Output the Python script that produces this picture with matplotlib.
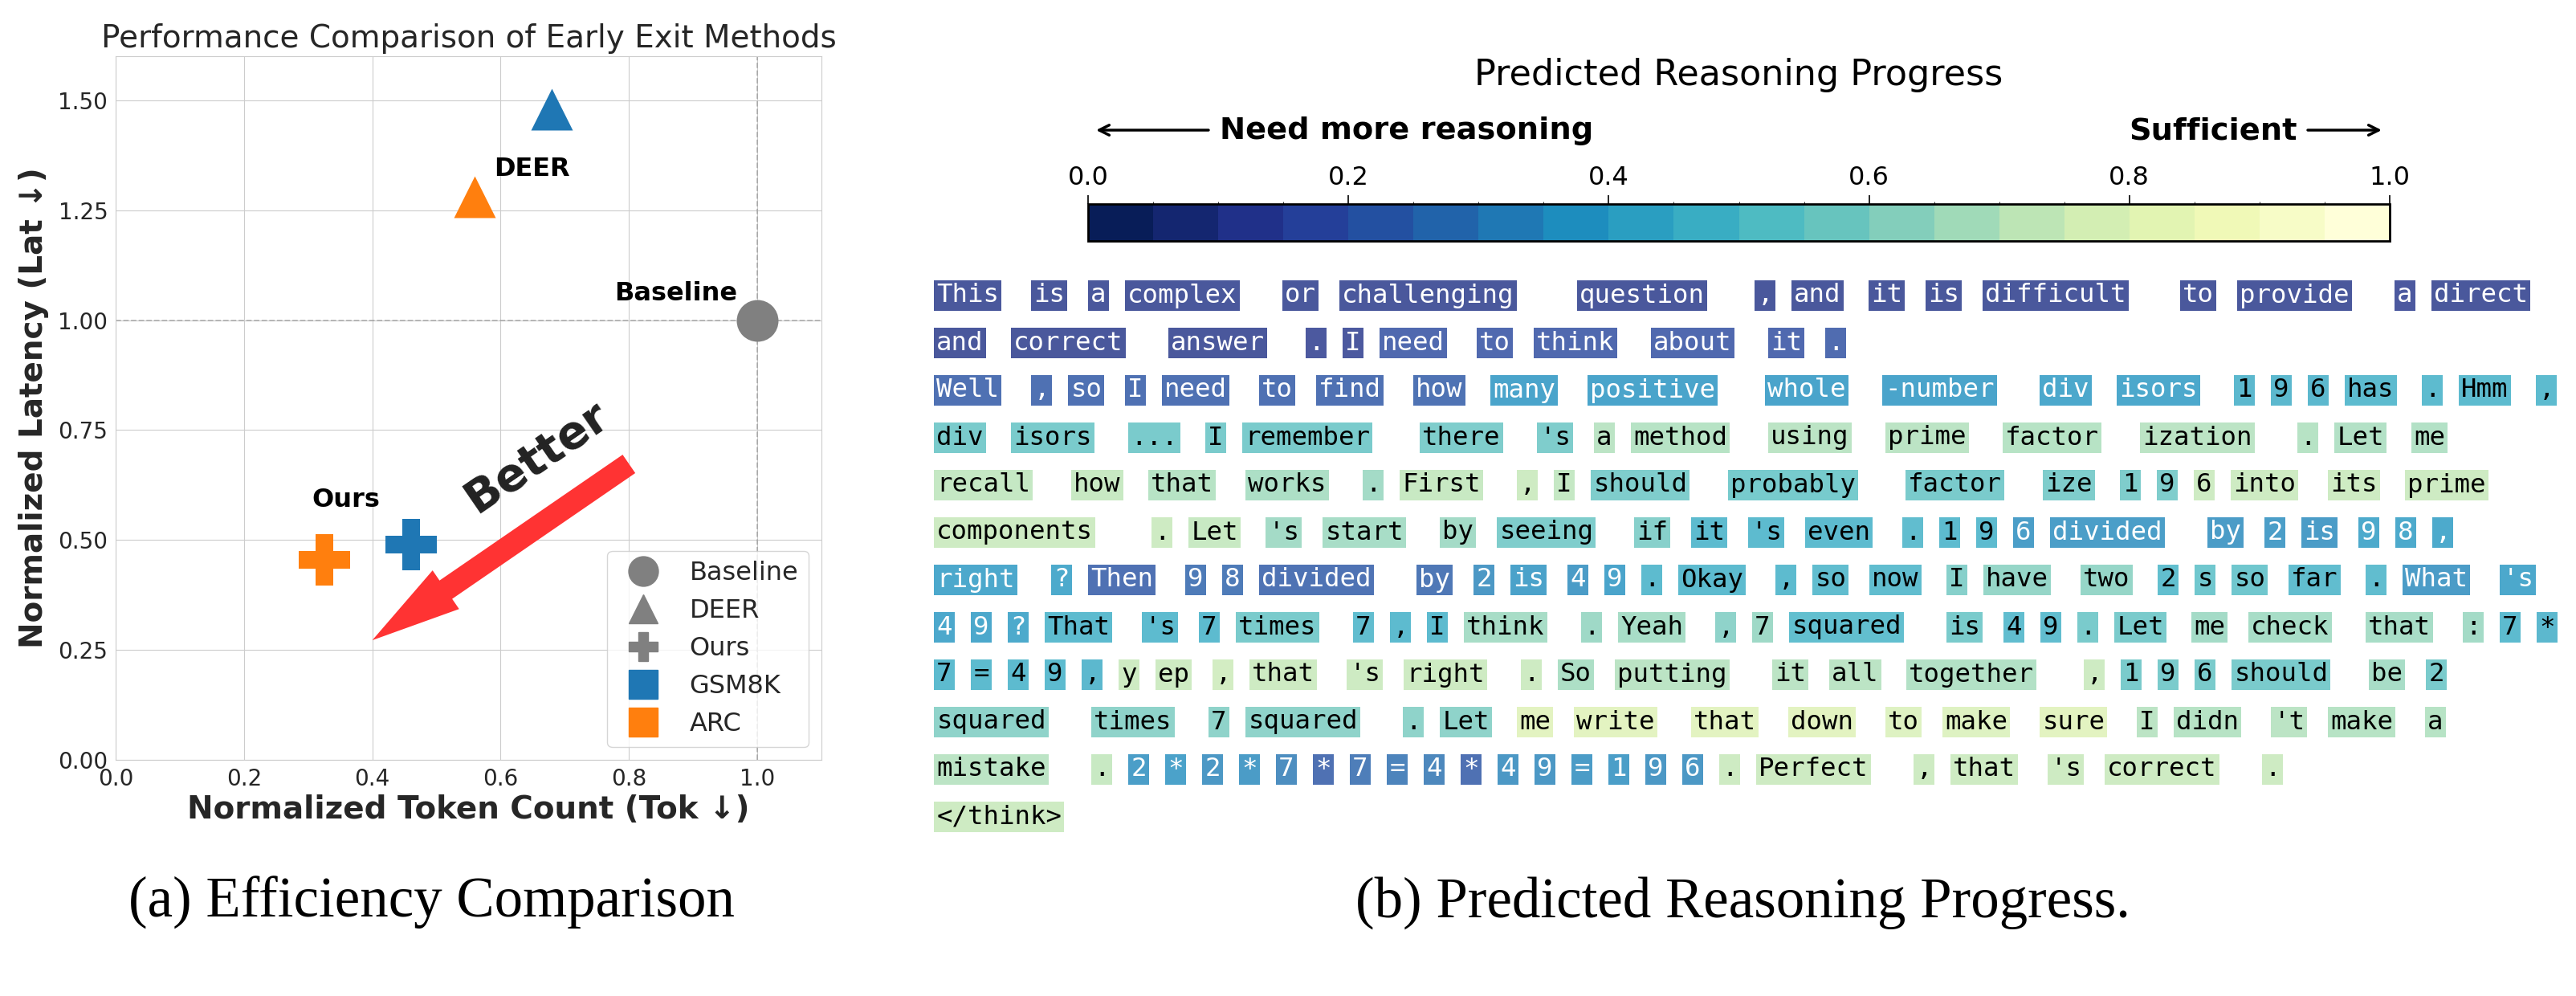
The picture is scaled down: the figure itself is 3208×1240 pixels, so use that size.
import numpy as np
import matplotlib
matplotlib.use("Agg")
import matplotlib.pyplot as plt
import seaborn as sns
from matplotlib import colors as mcolors
from matplotlib.colorbar import ColorbarBase
from matplotlib.lines import Line2D

plt.rcParams['font.family'] = ['DejaVu Sans']

# ---------------- (a) efficiency comparison data
datasets = ['GSM8K', 'ARC']
ds_colors = ['#1f77b4', '#ff7f0e']
baseline_tok = [1.0]
baseline_lat = [1.0]
deer_tok = [0.68, 0.56]      # GSM8K, ARC
deer_lat = [1.48, 1.28]
ours_tok = [0.46, 0.325]
ours_lat = [0.49, 0.455]
xticks = [0.0, 0.2, 0.4, 0.6, 0.8, 1.0]
yticks = [0.00, 0.25, 0.50, 0.75, 1.00, 1.25, 1.50]

# ---------------- (b) predicted reasoning progress per token
L1 = ['This', 'is', 'a', 'complex', 'or', 'challenging', 'question', ',', 'and', 'it', 'is', 'difficult', 'to', 'provide', 'a', 'direct']
P1 = [0.09, 0.09, 0.09, 0.09, 0.09, 0.09, 0.09, 0.09, 0.09, 0.09, 0.09, 0.09, 0.09, 0.09, 0.1, 0.09]
L2 = ['and', 'correct', 'answer', '.', 'I', 'need', 'to', 'think', 'about', 'it', '.']
P2 = [0.09, 0.09, 0.09, 0.1, 0.1, 0.17, 0.17, 0.17, 0.17, 0.17, 0.18]
L3 = ['Well', ',', 'so', 'I', 'need', 'to', 'find', 'how', 'many', 'positive', 'whole', '-number', 'div', 'isors', '1', '9', '6', 'has', '.', 'Hmm', ',']
P3 = [0.2, 0.2, 0.2, 0.2, 0.2, 0.2, 0.2, 0.21, 0.37, 0.37, 0.37, 0.37, 0.38, 0.38, 0.45, 0.45, 0.45, 0.46, 0.46, 0.46, 0.46]
L4 = ['div', 'isors', '...', 'I', 'remember', 'there', "'s", 'a', 'method', 'using', 'prime', 'factor', 'ization', '.', 'Let', 'me']
P4 = [0.55, 0.55, 0.55, 0.55, 0.55, 0.56, 0.56, 0.7, 0.69, 0.7, 0.7, 0.69, 0.7, 0.69, 0.68, 0.68]
L5 = ['recall', 'how', 'that', 'works', '.', 'First', ',', 'I', 'should', 'probably', 'factor', 'ize', '1', '9', '6', 'into', 'its', 'prime']
P5 = [0.72, 0.73, 0.69, 0.67, 0.65, 0.73, 0.74, 0.72, 0.56, 0.54, 0.55, 0.56, 0.56, 0.56, 0.74, 0.74, 0.74, 0.74]
L6 = ['components', '.', 'Let', "'s", 'start', 'by', 'seeing', 'if', 'it', "'s", 'even', '.', '1', '9', '6', 'divided', 'by', '2', 'is', '9', '8', ',']
P6 = [0.74, 0.74, 0.73, 0.65, 0.66, 0.65, 0.56, 0.58, 0.46, 0.46, 0.46, 0.47, 0.46, 0.46, 0.35, 0.35, 0.34, 0.35, 0.34, 0.39, 0.39, 0.39]
L7 = ['right', '?', 'Then', '9', '8', 'divided', 'by', '2', 'is', '4', '9', '.', 'Okay', ',', 'so', 'now', 'I', 'have', 'two', '2', 's', 'so', 'far', '.', 'What', "'s"]
P7 = [0.38, 0.39, 0.2, 0.24, 0.24, 0.21, 0.23, 0.33, 0.36, 0.34, 0.37, 0.46, 0.46, 0.46, 0.47, 0.47, 0.58, 0.62, 0.62, 0.48, 0.52, 0.52, 0.47, 0.47, 0.34, 0.38]
L8 = ['4', '9', '?', 'That', "'s", '7', 'times', '7', ',', 'I', 'think', '.', 'Yeah', ',', '7', 'squared', 'is', '4', '9', '.', 'Let', 'me', 'check', 'that', ':', '7', '*']
P8 = [0.38, 0.38, 0.39, 0.46, 0.46, 0.46, 0.55, 0.47, 0.46, 0.46, 0.66, 0.64, 0.66, 0.6, 0.64, 0.48, 0.55, 0.47, 0.47, 0.55, 0.55, 0.65, 0.66, 0.66, 0.65, 0.46, 0.45]
L9 = ['7', '=', '4', '9', ',', 'y', 'ep', ',', 'that', "'s", 'right', '.', 'So', 'putting', 'it', 'all', 'together', ',', '1', '9', '6', 'should', 'be', '2']
P9 = [0.46, 0.46, 0.46, 0.46, 0.45, 0.74, 0.74, 0.75, 0.74, 0.74, 0.74, 0.74, 0.67, 0.7, 0.7, 0.7, 0.68, 0.74, 0.55, 0.55, 0.55, 0.55, 0.66, 0.55]
L10 = ['squared', 'times', '7', 'squared', '.', 'Let', 'me', 'write', 'that', 'down', 'to', 'make', 'sure', 'I', 'didn', "'t", 'make', 'a']
P10 = [0.6, 0.6, 0.6, 0.6, 0.6, 0.6, 0.82, 0.82, 0.82, 0.82, 0.8, 0.8, 0.82, 0.7, 0.69, 0.7, 0.69, 0.69]
L11 = ['mistake', '.', '2', '*', '2', '*', '7', '*', '7', '=', '4', '*', '4', '9', '=', '1', '9', '6', '.', 'Perfect', ',', 'that', "'s", 'correct', '.']
P11 = [0.7, 0.73, 0.35, 0.36, 0.33, 0.34, 0.3, 0.2, 0.25, 0.27, 0.28, 0.2, 0.33, 0.33, 0.34, 0.35, 0.33, 0.33, 0.74, 0.74, 0.74, 0.74, 0.74, 0.74, 0.74]
L12 = ['</think>']
P12 = [0.74]
token_lines = [L1, L2, L3, L4, L5, L6, L7, L8, L9, L10, L11, L12]
progress_lines = [P1, P2, P3, P4, P5, P6, P7, P8, P9, P10, P11, P12]
cbar_ticks = [0.0, 0.2, 0.4, 0.6, 0.8, 1.0]

W, H, DPI = 3208, 1240, 100

fig = plt.figure(figsize=(W / DPI, H / DPI), dpi=DPI)

# overlay axes in pixel coordinates for panel (b) and captions
ov = fig.add_axes([0, 0, 1, 1])
ov.set_xlim(0, W)
ov.set_ylim(H, 0)
ov.axis('off')

# ---------------- panel (a)
with sns.axes_style('whitegrid'):
    ax = fig.add_axes([144 / W, 1 - 946 / H, 879 / W, 876 / H])
dark = '#262626'
ax.scatter(baseline_tok, baseline_lat, s=1400, marker='o', color='gray', zorder=3, linewidths=0)
for i in range(len(datasets)):
    ax.scatter(deer_tok[i], deer_lat[i], s=1400, marker='^', color=ds_colors[i], zorder=3, linewidths=0)
    ax.scatter(ours_tok[i], ours_lat[i], s=2100, marker='P', color=ds_colors[i], zorder=3, linewidths=0)
ax.axhline(1.0, color='gray', ls='--', lw=1.3, alpha=0.5, zorder=1)
ax.axvline(1.0, color='gray', ls='--', lw=1.3, alpha=0.5, zorder=1)
ax.set_xlim(0, 1.1)
ax.set_ylim(0, 1.6)
ax.set_xticks(xticks)
ax.set_xticklabels(['%.1f' % t for t in xticks])
ax.set_yticks(yticks)
ax.set_yticklabels(['%.2f' % t for t in yticks])
ax.tick_params(labelsize=20, colors=dark)
ax.set_xlabel('Normalized Token Count (Tok ↓)', fontsize=28, fontweight='bold', color=dark, labelpad=4)
ax.set_ylabel('Normalized Latency (Lat ↓)', fontsize=28, fontweight='bold', color=dark, labelpad=8)
ax.set_title('Performance Comparison of Early Exit Methods', fontsize=28, color=dark, pad=8)

ax.text(0.589, 1.343, 'DEER', fontsize=23, fontweight='bold', ha='left', va='center')
ax.text(0.969, 1.06, 'Baseline', fontsize=23, fontweight='bold', ha='right', va='center')
ax.text(0.306, 0.591, 'Ours', fontsize=23, fontweight='bold', ha='left', va='center')

ax.annotate('', xy=(0.40, 0.272), xytext=(0.80, 0.673),
            arrowprops=dict(facecolor='#ff3333', edgecolor='none', width=20,
                            headwidth=42, headlength=80, shrink=0), zorder=4)
ax.text(0.658, 0.688, 'Better', rotation=34.5, fontsize=41, fontweight='bold',
        color='#222222', ha='center', va='center', rotation_mode='anchor')

handles = [
    Line2D([], [], ls='none', marker='o', color='gray', markersize=26.6, label='Baseline'),
    Line2D([], [], ls='none', marker='^', color='gray', markersize=26.6, label='DEER'),
    Line2D([], [], ls='none', marker='P', color='gray', markersize=26.6, label='Ours'),
    Line2D([], [], ls='none', marker='s', color=ds_colors[0], markersize=26.6, label=datasets[0]),
    Line2D([], [], ls='none', marker='s', color=ds_colors[1], markersize=26.6, label=datasets[1]),
]
leg = ax.legend(handles=handles, loc='lower right', fontsize=23, labelspacing=0.5,
                frameon=True, handletextpad=0.8)
for t in leg.get_texts():
    t.set_color(dark)

# ---------------- panel (b)
cmap = plt.get_cmap('YlGnBu_r')
norm = mcolors.BoundaryNorm(np.linspace(0, 1, 21), cmap.N)
cax = fig.add_axes([1355 / W, 1 - 300 / H, 1621 / W, 46 / H])
cb = ColorbarBase(cax, cmap=cmap, norm=norm, orientation='horizontal',
                  ticklocation='top', ticks=cbar_ticks)
cb.set_ticklabels(['%.1f' % t for t in cbar_ticks])
cb.outline.set_edgecolor('black')
cb.outline.set_linewidth(2)
cax.tick_params(axis='x', top=True, bottom=False, labeltop=True, labelbottom=False,
                length=8, width=1.2, labelsize=23, color='black', pad=4)

ov.text(2165, 106, 'Predicted Reasoning Progress', fontsize=32, ha='center', va='baseline')
ov.text(1519, 173, 'Need more reasoning', fontsize=27.6, fontweight='bold', ha='left', va='baseline')
ov.text(2861, 173, 'Sufficient', fontsize=27.6, fontweight='bold', ha='right', va='baseline')
arr = dict(arrowstyle='->,head_length=0.9,head_width=0.45', lw=2.5, color='black',
           shrinkA=0, shrinkB=0)
ov.annotate('', xy=(1365, 162), xytext=(1505, 162), arrowprops=arr)
ov.annotate('', xy=(2966, 162), xytext=(2874, 162), arrowprops=arr)

tok_fs = 23.3
pad_px = 0.1 * tok_fs * DPI / 72.0
CHAR_ADV, TOKEN_GAP = 25, 21
x0_tok, y0_tok, row_h = 1163, 368, 59
for r, (toks, vals) in enumerate(zip(token_lines, progress_lines)):
    x = x0_tok
    y = y0_tok + r * row_h
    for tok, v in zip(toks, vals):
        ov.text(x + pad_px, y, tok, family='DejaVu Sans Mono', fontsize=tok_fs,
                ha='left', va='center', color='white' if v < 0.4 else 'black',
                bbox=dict(boxstyle='square,pad=0.1', fc=cmap(v), ec='none', alpha=0.8))
        x += CHAR_ADV * len(tok) + TOKEN_GAP

ov.text(537, 1142, '(a) Efficiency Comparison', family='Liberation Serif',
        fontsize=51, ha='center', va='baseline')
ov.text(2170, 1142, '(b) Predicted Reasoning Progress.', family='Liberation Serif',
        fontsize=51, ha='center', va='baseline')

fig.savefig('out.png', dpi=DPI)
